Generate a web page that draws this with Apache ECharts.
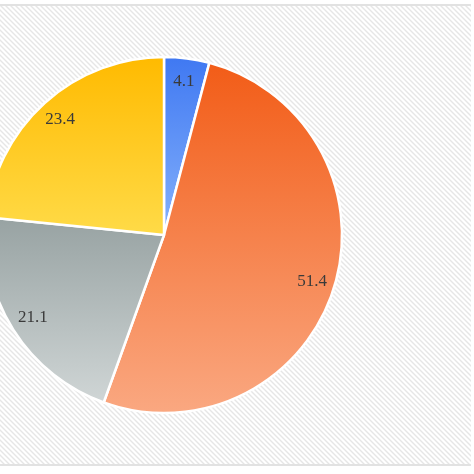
<!DOCTYPE html>
<html>
<head>
<meta charset="utf-8">
<script src="https://cdn.jsdelivr.net/npm/echarts@6/dist/echarts.min.js"></script>
<style>
  html, body { margin: 0; padding: 0; background: #fff; }
  #pie { width: 474px; height: 474px; }
</style>
</head>
<body>
<div id="pie"></div>
<script>
// valores del grafico de pastel (porcentajes)
var categorias = ['A', 'B', 'C', 'D'];
var valores = [4.1, 51.4, 21.1, 23.4];
var coloresArriba = ['#3f78f2', '#f25c17', '#97a2a2', '#ffba00'];
var coloresAbajo = ['#86b2fb', '#faa881', '#d0d6d6', '#ffdb48'];

document.addEventListener('DOMContentLoaded', function () {
    var chartDom = document.getElementById('pie');
    var myChart = echarts.init(chartDom);
    var option;

    // patron de rayas diagonales para el fondo
    var tile = document.createElement('canvas');
    tile.width = 5;
    tile.height = 5;
    var ctx = tile.getContext('2d');
    ctx.fillStyle = '#ffffff';
    ctx.fillRect(0, 0, 5, 5);
    ctx.strokeStyle = '#e6e6e6';
    ctx.lineWidth = 1.4;
    ctx.beginPath();
    ctx.moveTo(-1, -1); ctx.lineTo(6, 6);
    ctx.moveTo(-1, 4); ctx.lineTo(1, 6);
    ctx.moveTo(4, -1); ctx.lineTo(6, 1);
    ctx.stroke();

    var datos = valores.map(function (v, i) {
        return {
            name: categorias[i],
            value: v,
            itemStyle: {
                color: new echarts.graphic.LinearGradient(0, 0, 0, 1, [
                    { offset: 0, color: coloresArriba[i] },
                    { offset: 1, color: coloresAbajo[i] }
                ])
            }
        };
    });

    var etiquetas = valores.map(function (v, i) {
        return { name: categorias[i], value: v };
    });

    option = {
        animation: false,
        graphic: [
            { type: 'rect', silent: true, z: -10, shape: { x: 0, y: 6, width: 471, height: 458 },
              style: { fill: { image: tile, repeat: 'repeat' } } },
            { type: 'rect', silent: true, z: -9, shape: { x: 0, y: 4, width: 471, height: 2 },
              style: { fill: '#e2e2e2' } },
            { type: 'rect', silent: true, z: -9, shape: { x: 0, y: 464, width: 471, height: 2 },
              style: { fill: '#e2e2e2' } }
        ],
        series: [
            {
                type: 'pie',
                center: [164, 235],
                radius: [0, 178],
                startAngle: 90,
                clockwise: true,
                silent: true,
                label: { show: false },
                labelLine: { show: false },
                itemStyle: { borderColor: '#ffffff', borderWidth: 2.5 },
                data: datos
            },
            {
                type: 'pie',
                center: [164, 235],
                radius: [126, 178],
                startAngle: 90,
                clockwise: true,
                silent: true,
                z: 5,
                itemStyle: { color: 'rgba(0,0,0,0)', borderWidth: 0 },
                label: {
                    show: true,
                    position: 'inside',
                    formatter: '{c}',
                    fontFamily: 'Liberation Serif',
                    fontSize: 17,
                    color: '#3a3a3a'
                },
                labelLine: { show: false },
                data: etiquetas
            }
        ]
    };

    option && myChart.setOption(option);
});
</script>
</body>
</html>
